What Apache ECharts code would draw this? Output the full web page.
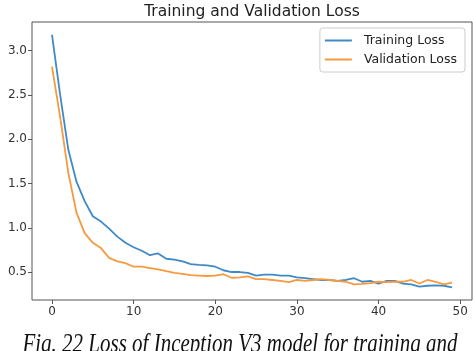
<!DOCTYPE html>
<html>
<head>
<meta charset="utf-8">
<script src="https://cdn.jsdelivr.net/npm/echarts@6/dist/echarts.min.js"></script>
<style>
html,body{margin:0;padding:0;background:#fff;}
#chart{width:474px;height:351px;}
</style>
</head>
<body>
<div id="chart"></div>
<script>
var epochs = [];
for (var i = 0; i < 50; i++) epochs.push(i);

var trainingLoss = [
  3.18, 2.50, 1.88, 1.52, 1.30, 1.13, 1.07, 0.99, 0.90, 0.83,
  0.78, 0.74, 0.69, 0.71, 0.65, 0.64, 0.62, 0.59, 0.58, 0.575,
  0.56, 0.52, 0.50, 0.50, 0.49, 0.46, 0.47, 0.47, 0.46, 0.46,
  0.44, 0.43, 0.42, 0.41, 0.41, 0.40, 0.41, 0.43, 0.39, 0.40,
  0.37, 0.40, 0.40, 0.37, 0.36, 0.335, 0.345, 0.35, 0.345, 0.327
];
var validationLoss = [
  2.82, 2.25, 1.62, 1.17, 0.94, 0.83, 0.77, 0.66, 0.62, 0.60,
  0.56, 0.56, 0.545, 0.53, 0.51, 0.49, 0.48, 0.465, 0.46, 0.455,
  0.46, 0.475, 0.435, 0.44, 0.45, 0.42, 0.42, 0.41, 0.40, 0.385,
  0.41, 0.40, 0.41, 0.42, 0.41, 0.40, 0.39, 0.36, 0.365, 0.375,
  0.39, 0.385, 0.39, 0.39, 0.41, 0.37, 0.41, 0.39, 0.36, 0.38
];
var xTicks = [0, 10, 20, 30, 40, 50];
var yTicks = [0.5, 1.0, 1.5, 2.0, 2.5, 3.0];
var titleText = 'Training and Validation Loss';
var captionText = 'Fig. 22 Loss of Inception V3 model for training and';

function pairs(xs, ys) {
  return xs.map(function (x, k) { return [x, ys[k]]; });
}

var chart = echarts.init(document.getElementById('chart'), null, {renderer: 'canvas'});
var tickFont = {fontFamily: 'DejaVu Sans', fontSize: 12, color: '#333'};
chart.setOption({
  animation: false,
  backgroundColor: '#fff',
  title: {
    text: titleText,
    left: 247, top: -1, textAlign: 'center',
    textStyle: {fontFamily: 'DejaVu Sans', fontSize: 15.5, fontWeight: 'normal', color: '#222'}
  },
  grid: {left: 32, right: 2, top: 22, bottom: 51, show: true, borderColor: '#555', borderWidth: 1, containLabel: false},
  legend: {
    orient: 'vertical', right: 9, top: 28,
    itemWidth: 27, itemHeight: 2, itemGap: 4,
    icon: 'rect',
    padding: [5, 8, 5, 5],
    borderColor: '#ccc', borderWidth: 1, borderRadius: 3,
    textStyle: {fontFamily: 'DejaVu Sans', fontSize: 12.5, color: '#222', padding: [0, 0, 0, 7], lineHeight: 15},
    data: ['Training Loss', 'Validation Loss']
  },
  xAxis: {
    type: 'value', min: -2.45, max: 51.45,
    splitLine: {show: false},
    axisLine: {show: false, onZero: false},
    axisTick: {show: true, length: 4, lineStyle: {color: '#555'}, customValues: xTicks},
    axisLabel: Object.assign({margin: 6, customValues: xTicks, formatter: function (v) { return String(v); }}, tickFont)
  },
  yAxis: {
    type: 'value', min: 0.184, max: 3.324,
    splitLine: {show: false},
    axisLine: {show: false, onZero: false},
    axisTick: {show: true, length: 4, lineStyle: {color: '#555'}, customValues: yTicks},
    axisLabel: Object.assign({margin: 5, customValues: yTicks, formatter: function (v) { return v.toFixed(1); }}, tickFont)
  },
  series: [
    {
      name: 'Training Loss', type: 'line', showSymbol: false, symbol: 'none',
      data: pairs(epochs, trainingLoss),
      itemStyle: {color: '#3f8ac6'},
      lineStyle: {color: '#3f8ac6', width: 1.8}
    },
    {
      name: 'Validation Loss', type: 'line', showSymbol: false, symbol: 'none',
      data: pairs(epochs, validationLoss),
      itemStyle: {color: '#f7993f'},
      lineStyle: {color: '#f7993f', width: 1.8}
    }
  ],
  graphic: [{
    type: 'text',
    x: 240, y: 358,
    scaleY: 1.3,
    style: {
      text: captionText,
      font: 'italic 21px "Liberation Serif"',
      fill: '#111',
      textAlign: 'center',
      textVerticalAlign: 'bottom'
    }
  }]
});
</script>
</body>
</html>
